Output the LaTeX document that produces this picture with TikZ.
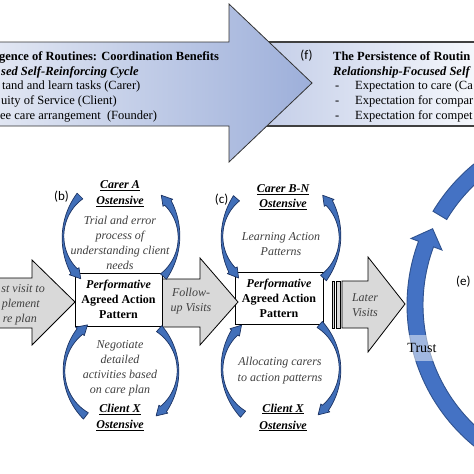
\documentclass[tikz,border=0pt]{standalone}
\usepackage{fontspec}
\setmainfont{Liberation Serif}
\newfontfamily\labfont{Carlito}
\usetikzlibrary{calc}
\definecolor{loopblue}{HTML}{416FB9}
\definecolor{loopline}{HTML}{1C3363}
\definecolor{bandblue}{HTML}{4472C4}
\definecolor{bandline}{HTML}{2F528F}
\definecolor{arrgray}{HTML}{D9D9D9}
\definecolor{txtgray}{HTML}{404040}
\definecolor{arrleft}{HTML}{E2E7F3}
\definecolor{arrright}{HTML}{9DAFDA}
\definecolor{boxleft}{HTML}{C4CEE8}
\definecolor{boxright}{HTML}{F6F8FC}
\tikzset{
  declare function={lpq(\v)=2*(\v-\lpA)/(\lpB-\lpA)-1; lpw(\v)=0.8+3.2*lpq(\v)*lpq(\v);},
  grayarrow/.style={fill=arrgray, draw=black, line width=0.8pt, line join=miter},
  apbox/.style={draw=black, line width=0.9pt, fill=white, minimum width=87pt, minimum height=53pt, inner sep=0pt, align=center, font=\fontsize{12}{15}\selectfont\bfseries},
  ostlab/.style={align=center, inner sep=0pt, font=\fontsize{12}{16}\selectfont\bfseries\itshape},
  desc/.style={align=center, inner sep=0pt, text=txtgray, font=\fontsize{12}{15}\selectfont\itshape},
  loopa/.style={fill=loopblue, draw=loopline, line width=0.7pt, line join=round},
  band/.style={fill=bandblue, draw=bandline, line width=0.9pt},
  lab/.style={inner sep=0pt, font=\labfont\fontsize{13}{13}\selectfont},
  hdr/.style={anchor=base west, inner sep=0pt, font=\fontsize{12.5}{14}\selectfont},
  hdrb/.style={hdr, font=\fontsize{12.5}{14}\selectfont\bfseries},
  hdrbi/.style={hdr, font=\fontsize{12.5}{14}\selectfont\bfseries\itshape},
  arrtext/.style={anchor=base east, inner sep=0pt, text=txtgray, font=\fontsize{12}{15}\selectfont\itshape},
  topshade/.style={left color=arrleft, right color=arrright, draw=black!80, line width=0.8pt},
  fshade/.style={left color=boxleft, right color=boxright, draw=black!75, line width=1.2pt},
}
\newcommand{\looparc}[5]{%
  \pgfmathsetmacro\lpS{sign(#5-#4)}%
  \pgfmathsetmacro\lpA{#4}%
  \pgfmathsetmacro\lpB{#5-\lpS*10/#3*180/pi}%
  \filldraw[loopa]
    plot[domain=\lpA:\lpB, samples=30, variable=\t] ({#1+(#3+lpw(\t))*cos(\t)},{#2-(#3+lpw(\t))*sin(\t)})
    -- ({#1+(#3+6)*cos(\lpB)},{#2-(#3+6)*sin(\lpB)})
    -- ({#1+#3*cos(#5)},{#2-#3*sin(#5)})
    -- ({#1+(#3-6)*cos(\lpB)},{#2-(#3-6)*sin(\lpB)})
    -- plot[domain=\lpB:\lpA, samples=30, variable=\t] ({#1+(#3-lpw(\t))*cos(\t)},{#2-(#3-lpw(\t))*sin(\t)})
    -- cycle;}
\begin{document}
\begin{tikzpicture}[x=1pt, y=-1pt]
\useasboundingbox (0,0) rectangle (474,474);
\clip (0,0) rectangle (474,474);
\fill[white] (0,0) rectangle (474,474);

% (f) box and top arrow
\draw[fshade] (262,42) rectangle (482,126);
\draw[topshade] (-5,42) -- (229,42) -- (229,4) -- (312,83) -- (229,162) -- (229,126) -- (-5,126) -- cycle;

\node[hdrb] (a1) at (-1,60) {gence of Routines: Coordination Benefits};
\node[hdrbi] (a2) at (1,75) {sed Self-Reinforcing Cycle};
\node[hdr] (a3) at (2,89.5) {tand and learn tasks (Carer)};
\node[hdr] (a4) at (1,104) {uity of Service (Client)};
\node[hdr] (a5) at (0,119) {ee care arrangement\ \ (Founder)};

\node[lab] (flab) at (306.5,56) {(f)};
\node[hdrb] (f1) at (333,60) {The Persistence of Routin};
\node[hdrbi] (f2) at (333,75) {Relationship-Focused Self};
\node[hdr] (d1) at (335,89.5) {-};
\node[hdr] (f3) at (355,89.5) {Expectation to care (Ca};
\node[hdr] (d2) at (335,104) {-};
\node[hdr] (f4) at (355,104) {Expectation for compar};
\node[hdr] (d3) at (335,119) {-};
\node[hdr] (f5) at (355,119) {Expectation for compet};

% boxes
\node[apbox] (pb) at (118.5,299.5) {\textit{Performative}\\Agreed Action\\Pattern};
\node[apbox, minimum width=88pt, minimum height=52pt] (pc) at (279,298) {\textit{Performative}\\Agreed Action\\Pattern};

% gray arrows
\draw[grayarrow] (-5,278) -- (32,278) -- (32,260) -- (75,302) -- (32,345) -- (32,328) -- (-5,328) -- cycle;
\node[arrtext] (l1) at (45,292) {st visit to};
\node[arrtext] (l2) at (40,307) {plement};
\node[arrtext] (l3) at (37,322) {re plan};

\draw[grayarrow] (pb.east |- 0,279) -- (200,279) -- (200,258) -- (238,302) -- (200,345) -- (200,327) -- (pb.east |- 0,327) -- cycle;
\node[desc] (fu) at (191,301.5) {Follow-\\up Visits};

\draw[grayarrow] (332,281) rectangle (334.5,328);
\draw[grayarrow] (336,281) rectangle (340,328);
\draw[grayarrow] (342,281) -- (368,281) -- (368,257) -- (405,304) -- (368,352) -- (368,328) -- (342,328) -- cycle;
\node[desc] (lv) at (365,305) {Later\\Visits};

% loops (b)
\looparc{121}{237}{58}{135}{226}
\looparc{121}{237}{58}{-43}{46}
\looparc{121}{371}{57}{232}{126}
\looparc{121}{371}{57}{48}{-52}
% loops (c)
\looparc{281}{237}{59}{139}{224}
\looparc{281}{237}{59}{-44}{45}
\looparc{281}{369}{59}{230}{132}
\looparc{281}{369}{59}{49}{-51}

\node[lab] (blab) at (61.5,197) {(b)};
\node[lab] (clab) at (221.5,200) {(c)};

\node[ostlab] (ca) at (120,193.5) {\underline{Carer A}\\\underline{Ostensive}};
\node[desc] (tb) at (120,242.5) {Trial and error\\process of\\understanding client\\needs};
\node[desc] (nb) at (120,368) {Negotiate\\detailed\\activities based\\on care plan};
\node[ostlab] (cxb) at (120,417.5) {\underline{Client X}\\\underline{Ostensive}};

\node[ostlab, font=\fontsize{12}{15}\selectfont\bfseries\itshape] (cbn) at (283,197.5) {\underline{Carer B-N}\\\underline{Ostensive}};
\node[desc] (la) at (281,244.5) {Learning Action\\Patterns};
\node[desc, font=\fontsize{12}{16}\selectfont\itshape] (ac) at (280,371) {Allocating carers\\to action patterns};
\node[ostlab, font=\fontsize{12}{17}\selectfont\bfseries\itshape] (cxc) at (283,417.5) {\underline{Client X}\\\underline{Ostensive}};

% big cycle (e)
\filldraw[band] plot[domain=159.5:300, samples=80, variable=\t] ({589+182*cos(\t)},{305-182*sin(\t)})
  -- plot[domain=300:159.5, samples=80, variable=\t] ({589+166*cos(\t)},{305-166*sin(\t)})
  -- ({589+157*cos(159.5)},{305-157*sin(159.5)})
  -- ({589+174*cos(154)},{305-174*sin(154)})
  -- ({589+190*cos(159.5)},{305-190*sin(159.5)})
  -- cycle;
\filldraw[band] plot[domain=149:40, samples=80, variable=\t] ({589+182*cos(\t)},{305-182*sin(\t)})
  -- plot[domain=40:149, samples=80, variable=\t] ({589+166*cos(\t)},{305-166*sin(\t)})
  -- cycle;
\fill[white, opacity=0.5] (407,335) rectangle (433,361);
\node[inner sep=0pt, font=\fontsize{14}{14}\selectfont] (trust) at (422,348) {Trust};
\node[lab, anchor=west] (elab) at (456,282) {(e)};
\end{tikzpicture}
\end{document}
